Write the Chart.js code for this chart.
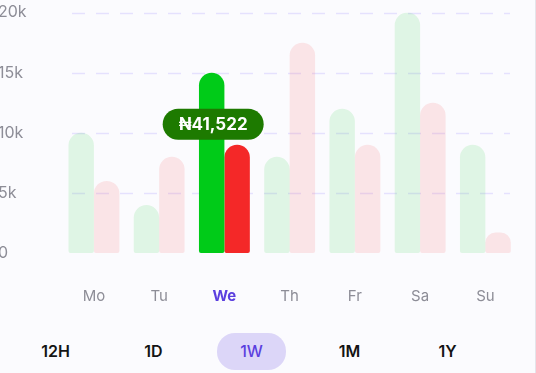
<!DOCTYPE html>
<html>
<head>
<meta charset="utf-8">
<script src="https://cdn.jsdelivr.net/npm/chart.js@4.4.1/dist/chart.umd.min.js"></script>
<style>
  html, body { margin: 0; padding: 0; background: #fbfbfe; }
  #wrap { position: relative; width: 535px; height: 373px; border-right: 1px solid #e4e4ea; overflow: hidden; }
  #chart { position: absolute; left: 0; top: 0; }
  #ranges { position: absolute; left: 6.5px; top: 333px; display: flex; }
  #ranges div { width: 98px; height: 36px; line-height: 37px; text-align: center;
    font-family: Inter, 'DejaVu Sans', sans-serif; font-size: 16px; font-weight: 600; color: #141414; }
  #ranges div.on span { display: inline-block; width: 69px; border-radius: 18px; background: #dcd6f8; color: #5b3fdf; font-weight: 500; }
</style>
</head>
<body>
<div id="wrap">
  <canvas id="chart" width="536" height="313"></canvas>
  <div id="ranges"></div>
</div>
<script>
// ---- data ----
const days = ['Mo', 'Tu', 'We', 'Th', 'Fr', 'Sa', 'Su'];
const incomeValues = [10000, 4000, 15000, 8000, 12000, 20000, 9000];
const expenseValues = [6000, 8000, 9000, 17500, 9000, 12500, 1700];
const yTickLabels = ['0', '5k', '10k', '15k', '20k'];
const ranges = ['12H', '1D', '1W', '1M', '1Y'];
const activeDay = 2;
const activeRange = 2;
const activeLabel = '\u20A641,522';

const COLORS = {
    green: '#00cb18',
    greenFaded: 'rgba(0, 203, 24, 0.11)',
    red: '#f42828',
    redFaded: 'rgba(244, 42, 42, 0.11)',
    grid: 'rgba(105, 80, 255, 0.15)',
    tick: '#8d8d97',
    active: '#5b3fdf',
    pill: '#1d7a00'
};

// range buttons under the chart
const rangeBox = document.getElementById('ranges');
ranges.forEach((r, i) => {
    const d = document.createElement('div');
    const s = document.createElement('span');
    s.textContent = r;
    d.appendChild(s);
    if (i === activeRange) d.className = 'on';
    rangeBox.appendChild(d);
});

// dashed grid lines, inset from the plot edges like the original
const dashedGridPlugin = {
    id: 'dashedGrid',
    beforeDatasetsDraw(chart) {
        const y = chart.scales.y;
        const ctx = chart.ctx;
        const x0 = chart.chartArea.left + 4.7;
        const x1 = chart.chartArea.right - 8;
        ctx.save();
        ctx.strokeStyle = COLORS.grid;
        ctx.lineWidth = 1.5;
        ctx.setLineDash([13, 11]);
        ctx.lineDashOffset = 18;
        y.ticks.forEach(t => {
            if (t.value === 0) return;
            const py = Math.round(y.getPixelForValue(t.value)) + 0.5;
            ctx.beginPath();
            ctx.moveTo(x0, py);
            ctx.lineTo(x1, py);
            ctx.stroke();
        });
        ctx.restore();
    }
};

// pill label above the selected day
const pillPlugin = {
    id: 'pillLabel',
    afterDatasetsDraw(chart) {
        const bar = chart.getDatasetMeta(0).data[activeDay];
        if (!bar) return;
        const ctx = chart.ctx;
        const cx = bar.x + 1.5;
        const cy = bar.y + 51.5;
        const w = 101, h = 31;
        ctx.save();
        ctx.fillStyle = COLORS.pill;
        ctx.beginPath();
        ctx.roundRect(cx - w / 2, cy - h / 2, w, h, h / 2);
        ctx.fill();
        ctx.fillStyle = '#ffffff';
        ctx.font = 'bold 17px Inter, "DejaVu Sans", sans-serif';
        ctx.textAlign = 'center';
        ctx.textBaseline = 'middle';
        ctx.fillText(activeLabel, cx, cy + 1);
        ctx.restore();
    }
};

const radius = { topLeft: 13, topRight: 13, bottomLeft: 2, bottomRight: 2 };

new Chart(document.getElementById('chart'), {
    type: 'bar',
    data: {
        labels: days,
        datasets: [
            {
                data: incomeValues,
                backgroundColor: incomeValues.map((v, i) => i === activeDay ? COLORS.green : COLORS.greenFaded),
                borderRadius: radius,
                borderSkipped: false,
                categoryPercentage: 0.78,
                barPercentage: 1
            },
            {
                data: expenseValues,
                backgroundColor: expenseValues.map((v, i) => i === activeDay ? COLORS.red : COLORS.redFaded),
                borderRadius: radius,
                borderSkipped: false,
                categoryPercentage: 0.78,
                barPercentage: 1
            }
        ]
    },
    options: {
        responsive: false,
        animation: false,
        devicePixelRatio: 1,
        layout: { autoPadding: false, padding: { left: -2, right: 18, top: 12, bottom: 0 } },
        scales: {
            x: {
                grid: { display: false, drawTicks: false },
                border: { display: false },
                afterFit: s => { s.height = 60; },
                ticks: {
                    padding: 34,
                    color: c => c.index === activeDay ? COLORS.active : COLORS.tick,
                    font: c => ({
                        family: 'Inter, sans-serif',
                        size: 15,
                        weight: c.index === activeDay ? 'bold' : 'normal'
                    })
                }
            },
            y: {
                min: 0,
                max: 20000,
                afterFit: s => { s.width = 63.3; },
                grid: { display: false, drawTicks: false },
                border: { display: false },
                ticks: {
                    stepSize: 5000,
                    crossAlign: 'far',
                    color: COLORS.tick,
                    font: { family: 'Inter, sans-serif', size: 16 },
                    callback: (v, i) => yTickLabels[i]
                }
            }
        },
        plugins: {
            legend: { display: false },
            tooltip: { enabled: false }
        }
    },
    plugins: [dashedGridPlugin, pillPlugin]
});
</script>
</body>
</html>
